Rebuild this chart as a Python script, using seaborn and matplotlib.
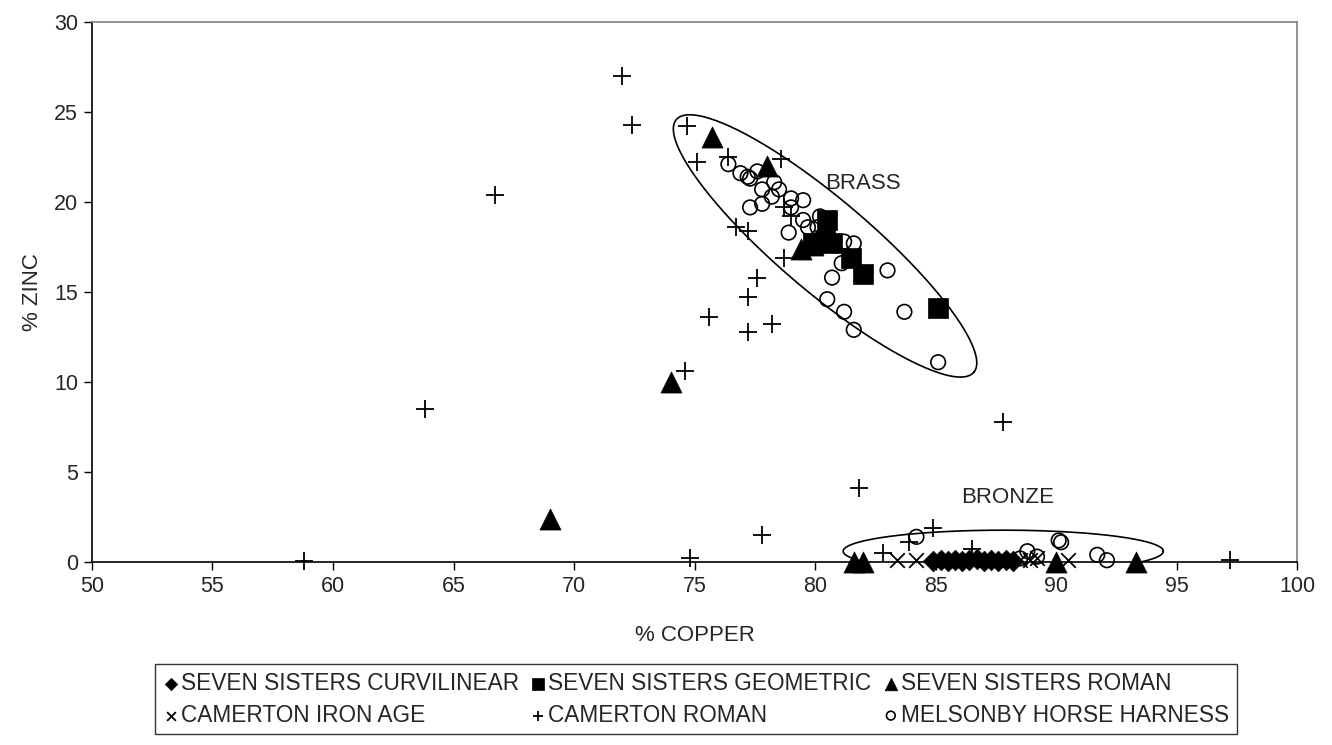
import numpy as np
import pandas as pd
import seaborn as sns
import matplotlib.pyplot as plt

# Data: % copper (x) and % zinc (y) per group
curv_cu = [84.9, 85.2, 85.5, 85.8, 86.1, 86.4, 86.7, 87.0, 87.3, 87.6, 87.9, 88.2]
curv_zn = [0.05, 0.1, 0.05, 0.1, 0.05, 0.1, 0.15, 0.05, 0.1, 0.05, 0.1, 0.05]

geom_cu = [80.5, 80.4, 80.7, 79.9, 81.5, 82.0, 85.1]
geom_zn = [19.0, 17.9, 17.7, 17.7, 16.9, 16.0, 14.1]

ssrom_cu = [75.7, 78.0, 79.4, 79.9, 74.0, 69.0, 81.6, 82.0, 90.0, 93.3]
ssrom_zn = [23.6, 22.0, 17.4, 17.6, 10.0, 2.4, 0.0, 0.0, 0.0, 0.0]

ironage_cu = [83.4, 84.2, 88.5, 88.9, 89.2, 90.5]
ironage_zn = [0.1, 0.1, 0.1, 0.1, 0.2, 0.1]

camrom_cu = [58.8, 63.8, 66.7, 72.0, 72.4, 74.7, 75.1, 76.4, 78.6, 78.7, 79.0, 76.7,
             77.2, 78.7, 77.6, 77.2, 75.6, 77.2, 78.2, 74.6, 87.8, 81.8, 77.8, 74.8,
             97.2, 82.8, 83.9, 84.9, 86.5]
camrom_zn = [0.05, 8.5, 20.4, 27.0, 24.3, 24.2, 22.2, 22.5, 22.4, 19.7, 19.2, 18.6,
             18.4, 16.9, 15.8, 14.7, 13.6, 12.8, 13.2, 10.6, 7.8, 4.1, 1.5, 0.2,
             0.1, 0.5, 1.1, 1.9, 0.7]

mels_cu = [76.4, 76.9, 77.2, 77.3, 77.6, 77.8, 78.3, 78.5, 78.2, 77.8, 77.3, 79.0,
           79.5, 79.0, 79.5, 79.7, 80.2, 80.1, 78.9, 81.2, 81.6, 81.1, 80.7, 83.0,
           80.5, 81.2, 81.6, 83.7, 85.1,
           84.2, 88.8, 89.2, 90.1, 90.2, 91.7, 92.1, 88.5]
mels_zn = [22.1, 21.6, 21.4, 21.3, 21.7, 20.7, 21.1, 20.7, 20.3, 19.9, 19.7, 20.2,
           20.1, 19.7, 19.0, 18.6, 19.2, 18.6, 18.3, 17.8, 17.7, 16.6, 15.8, 16.2,
           14.6, 13.9, 12.9, 13.9, 11.1,
           1.4, 0.6, 0.3, 1.2, 1.1, 0.4, 0.1, 0.2]

groups = [
    ("SEVEN SISTERS CURVILINEAR", curv_cu, curv_zn, "D", 110, True),
    ("SEVEN SISTERS GEOMETRIC", geom_cu, geom_zn, "s", 200, True),
    ("SEVEN SISTERS ROMAN", ssrom_cu, ssrom_zn, "^", 230, True),
    ("CAMERTON IRON AGE", ironage_cu, ironage_zn, "x", 110, False),
    ("CAMERTON ROMAN", camrom_cu, camrom_zn, "+", 150, False),
    ("MELSONBY HORSE HARNESS", mels_cu, mels_zn, "o", 110, False),
]

sns.set_style("white")
plt.rcParams["font.family"] = ["Liberation Sans", "DejaVu Sans"]

fig = plt.figure(figsize=(13.32, 7.45), dpi=100)
ax = fig.add_axes([0.069, 0.2456, 0.905, 0.7249])

for name, cu, zn, mk, size, filled in groups:
    df = pd.DataFrame({"cu": cu, "zn": zn})
    if filled:
        sns.scatterplot(data=df, x="cu", y="zn", marker=mk, s=size, color="black",
                        edgecolor="black", linewidth=0.5, label=name, ax=ax,
                        zorder=3, clip_on=False)
    elif mk == "o":
        sns.scatterplot(data=df, x="cu", y="zn", marker=mk, s=size, facecolor="none",
                        edgecolor="black", linewidth=1.2, label=name, ax=ax,
                        zorder=3, clip_on=False)
    else:
        sns.scatterplot(data=df, x="cu", y="zn", marker=mk, s=size, color="black",
                        linewidth=1.3, label=name, ax=ax, zorder=3, clip_on=False)

# group outlines
t = np.linspace(0, 2 * np.pi, 300)
brass_c = (80.41, 17.56)
brass_a = (6.17, -7.02)
brass_b = (1.24, 1.95)
ax.plot(brass_c[0] + brass_a[0] * np.cos(t) + brass_b[0] * np.sin(t),
        brass_c[1] + brass_a[1] * np.cos(t) + brass_b[1] * np.sin(t),
        color="black", lw=1.2, zorder=2)
bronze_c = (87.8, 0.6)
bronze_r = (6.64, 1.17)
ax.plot(bronze_c[0] + bronze_r[0] * np.cos(t), bronze_c[1] + bronze_r[1] * np.sin(t),
        color="black", lw=1.2, zorder=2)

ax.text(82.0, 21.05, "BRASS", fontsize=16, ha="center", va="center")
ax.text(88.0, 3.6, "BRONZE", fontsize=16, ha="center", va="center")

ax.set_xlim(50, 100)
ax.set_ylim(0, 30)
ax.set_xticks(range(50, 101, 5))
ax.set_yticks(range(0, 31, 5))
ax.set_xlabel("% COPPER", fontsize=16, labelpad=20)
ax.set_ylabel("% ZINC", fontsize=16, labelpad=8)
ax.tick_params(axis="both", labelsize=15.5, direction="out", length=6, width=1,
               color="black", bottom=True, left=True, pad=4)
for side in ["left", "bottom"]:
    ax.spines[side].set_color("black")
    ax.spines[side].set_linewidth(1.2)
for side in ["top", "right"]:
    ax.spines[side].set_color("#808080")
    ax.spines[side].set_linewidth(1.2)

handles, labels = ax.get_legend_handles_labels()
ax.get_legend().remove()
order = [0, 3, 1, 4, 2, 5]
leg = fig.legend([handles[i] for i in order], [labels[i] for i in order],
                 loc="center", bbox_to_anchor=(0.5225, 0.0617), ncol=3,
                 fontsize=16.3, frameon=True, fancybox=False, edgecolor="black",
                 markerscale=0.6, handletextpad=0.1, handlelength=0.7,
                 columnspacing=0.5, borderpad=0.35, labelspacing=0.4)
leg.get_frame().set_linewidth(1.0)

fig.savefig("out.png", dpi=100)
